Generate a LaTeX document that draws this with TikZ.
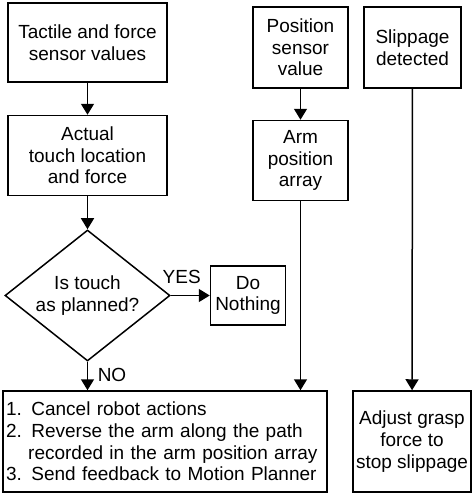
\documentclass[tikz,border=0pt]{standalone}
\usepackage{fontspec}
\setmainfont{Liberation Sans}
\usetikzlibrary{arrows.meta, positioning, shapes.geometric}

\begin{document}
\begin{tikzpicture}[x=1pt, y=-1pt, line width=1.5pt,
                    every node/.style={font=\fontsize{19}{21.7}\selectfont, inner sep=0pt, align=center},
                    box/.style={draw, rectangle},
                    arr/.style={-{Triangle[length=11pt, width=13pt]}}]
                    \useasboundingbox (0,0) rectangle (474,495);

                    \node[box, minimum width=159pt, minimum height=79pt](tactile) at (87.5,42.5){Tactile and force\\sensor values};
                    \node[box, minimum width=159pt, minimum height=80pt, below=32pt of tactile](actual){Actual\\touch location\\and force};
                    \node[draw, diamond, aspect=1.26, minimum width=165pt, minimum height=131pt, below=33pt of actual](check){Is touch\\as planned?};
                    \node[box, minimum width=75pt, minimum height=59pt, right=39pt of check](nothing){Do\\Nothing};
                    \draw[arr] (tactile) -- (actual);
                    \draw[arr] (actual) -- (check);
                    \draw[arr] (check) -- node[pos=0.28, above=11pt]{YES} (nothing);

                    \node[box, minimum width=95pt, minimum height=81pt](position) at (300.5,47.5){Position\\sensor\\value};
                    \node[box, minimum width=95pt, minimum height=80pt, below=31pt of position](arm){Arm\\position\\array};
                    \draw[arr] (position) -- (arm);

                    \node[box, minimum width=97pt, minimum height=81pt](slippage) at (412.5,47.5){Slippage\\detected};
                    \node[box, minimum width=118pt, minimum height=101pt](adjust) at (412,441.5){Adjust grasp\\force to\\stop slippage};
                    \draw[arr] (slippage) -- (adjust);

                    \node[box, text width=318pt, inner xsep=3pt, minimum height=101pt, align=left](actions) at (165,441.5){1. Cancel robot actions\\2. Reverse the arm along the path\\\phantom{2.\ }recorded in the arm position array\\3. Send feedback to Motion Planner};
                    \draw[arr] (check.south) -- node[pos=0, below right=5.5pt and 9.5pt]{NO} (check.south |- actions.north);
                    \draw[arr] (arm) -- (arm |- actions.north);
                \end{tikzpicture}
\end{document}
